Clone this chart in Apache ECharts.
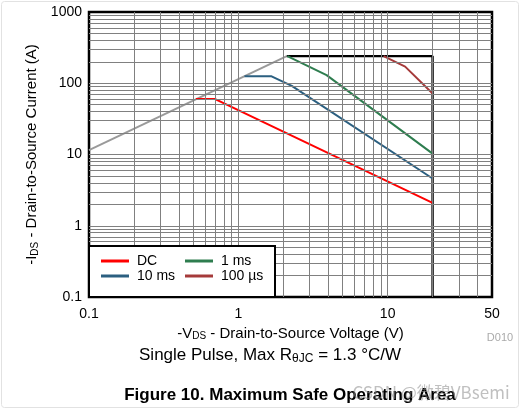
<!DOCTYPE html>
<html>
<head>
<meta charset="utf-8">
<script src="https://cdn.jsdelivr.net/npm/echarts@6/dist/echarts.min.js"></script>
<style>
html,body{margin:0;padding:0;background:#fff;}
#c{width:525px;height:411px;}
</style>
</head>
<body>
<div id="c"></div>
<script>
// ---- data ----
var rdsLimit = [[0.1, 11.5], [2.11, 240]];
var boundary = [[2.11, 240], [20, 240], [20, 0.1]];
var dcData = [[0.52, 60], [0.7, 60], [20, 2.1]];
var ms10Data = [[1.1, 125], [1.67, 125], [2.28, 92], [20, 4.6]];
var ms1Data = [[2.13, 240], [3.9, 130], [20, 10.3]];
var us100Data = [[9.4, 240], [13.1, 171], [20, 72]];
var xTickLabels = [0.1, 1, 10, 50];
var yTickLabels = [0.1, 1, 10, 100, 1000];
var xGrid = [0.2,0.3,0.4,0.5,0.6,0.7,0.8,0.9,1,2,3,4,5,6,7,8,9,10,20,30,40];
var yGrid = [0.2,0.3,0.4,0.5,0.6,0.7,0.8,0.9,1,2,3,4,5,6,7,8,9,10,20,30,40,50,60,70,80,90,100,200,300,400,500,600,700,800,900];
var legendCol1 = ['DC', '10 ms'];
var legendCol2 = ['1 ms', '100 µs'];

var FONT = '"Liberation Sans", Arial, sans-serif';
var chart = echarts.init(document.getElementById('c'), null, {renderer: 'canvas'});

var gridMarks = xGrid.map(function (v) { return {xAxis: v}; })
  .concat(yGrid.map(function (v) { return {yAxis: v}; }));

var sub = {fontSize: 10, verticalAlign: 'bottom', padding: [6, 0, 0, 0], fontFamily: FONT, color: '#000'};

function lineSeries(name, data, color, z, w) {
  return {
    name: name, type: 'line', data: data, symbol: 'none', z: z || 3,
    lineStyle: {color: color, width: w || 2}, itemStyle: {color: color},
    animation: false, silent: true
  };
}
function legendCol(names, left) {
  return {
    data: names, left: left, top: 254, orient: 'vertical', padding: 0, itemGap: 1,
    itemWidth: 28, itemHeight: 3, icon: 'rect', z: 20, selectedMode: false,
    textStyle: {fontSize: 14, fontFamily: FONT, color: '#000', padding: [0, 0, 0, 3]}
  };
}

var option = {
  animation: false,
  grid: {left: 89, right: 33, top: 12, bottom: 114, show: true, borderColor: '#000', borderWidth: 2.5, backgroundColor: '#fff', z: 0},
  xAxis: {
    type: 'log', logBase: 10, min: 0.1, max: 50,
    axisLine: {show: false}, axisTick: {show: false}, splitLine: {show: false},
    axisLabel: {customValues: xTickLabels, margin: 10, color: '#000', fontSize: 14, fontFamily: FONT,
      formatter: function (v) { return String(+(+v).toPrecision(3)); }},
    name: '-V{sub|DS} - Drain-to-Source Voltage (V)', nameLocation: 'middle', nameGap: 25,
    nameTextStyle: {color: '#000', fontSize: 15, fontFamily: FONT, rich: {sub: sub}}
  },
  yAxis: {
    type: 'log', logBase: 10, min: 0.1, max: 1000,
    axisLine: {show: false}, axisTick: {show: false}, splitLine: {show: false},
    axisLabel: {customValues: yTickLabels, margin: 7, color: '#000', fontSize: 14, fontFamily: FONT,
      formatter: function (v) { return String(+(+v).toPrecision(3)); }},
    name: '-I{sub|DS} - Drain-to-Source Current (A)', nameLocation: 'middle', nameGap: 48,
    nameTextStyle: {color: '#000', fontSize: 15, fontFamily: FONT, rich: {sub: sub}}
  },
  legend: [legendCol(legendCol1, 101), legendCol(legendCol2, 185)],
  series: [
    {
      type: 'line', data: [], silent: true, z: 1,
      markLine: {silent: true, symbol: 'none', label: {show: false}, animation: false,
        lineStyle: {color: '#808080', width: 1, type: 'solid'}, data: gridMarks}
    },
    lineSeries('rds', rdsLimit, '#9a9a9a', 3),
    lineSeries('boundary', boundary, '#000', 3, 2.4),
    lineSeries('DC', dcData, '#ff0000', 4),
    lineSeries('10 ms', ms10Data, '#2b5f80', 4),
    lineSeries('1 ms', ms1Data, '#2e7d4f', 4),
    lineSeries('100 µs', us100Data, '#a53a3a', 4)
  ],
  graphic: [
    {type: 'rect', z: 0, silent: true, shape: {x: 1.5, y: 1.5, width: 517, height: 406, r: 3}, style: {fill: 'none', stroke: '#e2e2e2', lineWidth: 1}},
    {type: 'rect', z: 15, silent: true, shape: {x: 89, y: 246, width: 186, height: 51}, style: {fill: '#fff', stroke: '#000', lineWidth: 2}},
    {type: 'text', z: 20, silent: true, x: 500, y: 338, style: {text: 'D010', fill: '#aaaaaa', fontSize: 11, fontFamily: FONT, align: 'center', verticalAlign: 'middle'}},
    {type: 'text', z: 20, silent: true, x: 270, y: 355, style: {
      text: 'Single Pulse, Max R{s|θJC} = 1.3 °C/W', fill: '#000', fontSize: 17, fontFamily: FONT, align: 'center', verticalAlign: 'middle',
      rich: {s: {fontSize: 12, fontFamily: FONT, fill: '#000', verticalAlign: 'bottom', padding: [8, 0, 0, 0]}}}},
    {type: 'text', z: 20, silent: true, x: 290, y: 395, style: {text: 'Figure 10. Maximum Safe Operating Area', fill: '#000', fontSize: 17, fontWeight: 'bold', fontFamily: FONT, align: 'center', verticalAlign: 'middle'}},
    {type: 'text', z: 21, silent: true, x: 431, y: 393, style: {text: 'CSDN @微碧VBsemi', fill: 'rgba(140,140,140,0.55)', fontSize: 17, fontFamily: '"Noto Sans CJK SC", "Liberation Sans", sans-serif', align: 'center', verticalAlign: 'middle'}}
  ]
};
chart.setOption(option);
</script>
</body>
</html>
